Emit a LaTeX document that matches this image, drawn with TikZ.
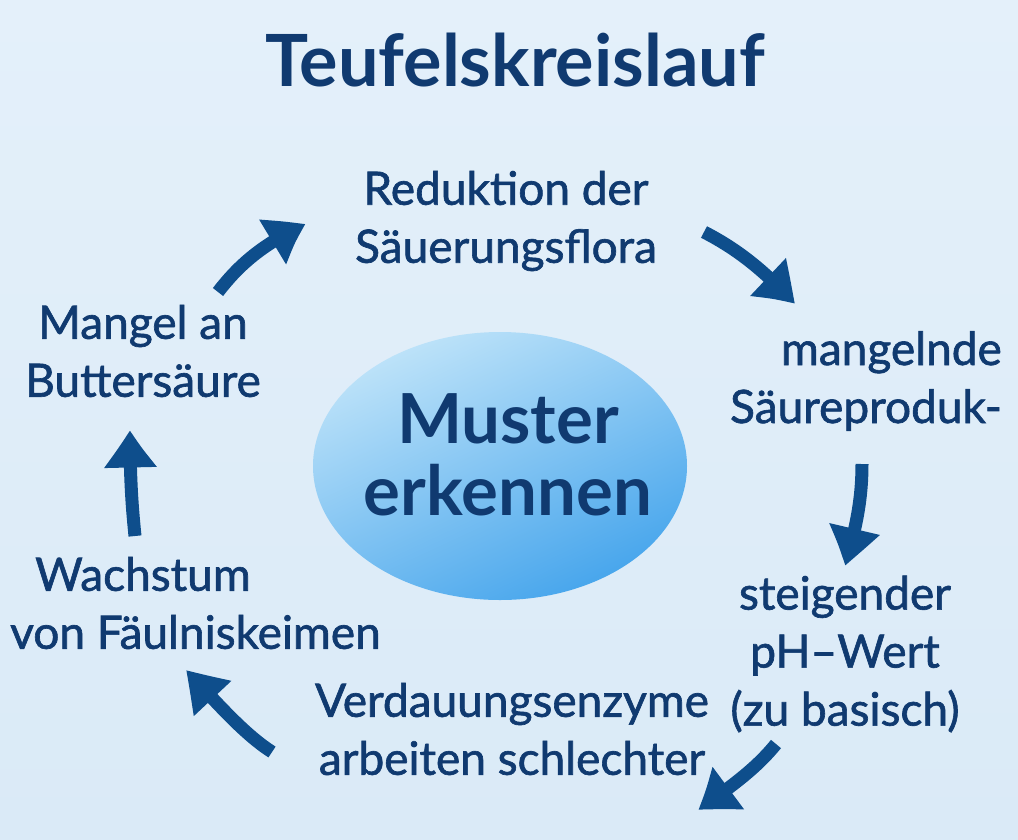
\documentclass[tikz,border=0pt]{standalone}
\usepackage{fontspec}
\setmainfont{Lato}
\newfontfamily\labelfont[FakeBold=1.4]{Lato}
\usetikzlibrary{arrows.meta,bending}
\definecolor{textblue}{RGB}{16,58,112}
\definecolor{arrowblue}{RGB}{14,78,140}
\definecolor{bgtop}{RGB}{228,240,250}
\definecolor{bgmid}{RGB}{238,246,252}
\definecolor{bgbot}{RGB}{218,234,247}
\definecolor{ovlight}{RGB}{190,227,249}
\definecolor{ovdark}{RGB}{70,165,236}
\tikzset{
  lbl/.style={text=textblue, align=center, inner sep=0pt, font=\labelfont\fontsize{46}{58}\selectfont},
  cyc/.style={draw=arrowblue, line width=13pt, -{Triangle[length=40pt,width=48pt,bend]}},
}
\begin{document}
\begin{tikzpicture}[x=1pt,y=-1pt]
  \useasboundingbox (0,0) rectangle (1018,839);
  \shade[top color=bgtop, middle color=bgmid, bottom color=bgbot] (0,0) rectangle (1018,839);
  % centre
  \shade[top color=ovlight, bottom color=ovdark, shading angle=25] (500,466) ellipse [x radius=187, y radius=134];
  \node[lbl, font=\bfseries\fontsize{69}{72}\selectfont] (muster) at (508,455) {Muster\\erkennen};
  % title and labels
  \node[lbl, font=\bfseries\fontsize{72}{72}\selectfont] (title) at (515,60) {Teufelskreislauf};
  \node[lbl] (red) at (506,221) {Reduktion der\\Säuerungsflora};
  \node[lbl, align=right, anchor=east] (mang) at (1002,381) {mangelnde\\Säureproduk-};
  \node[lbl] (steig) at (845,654) {steigender\\pH–Wert\\(zu basisch)};
  \node[lbl] (verd) at (512,729) {Verdauungsenzyme\\arbeiten schlechter};
  \node[lbl, align=left, anchor=west] (wachs) at (10,603) {\hspace*{25pt}Wachstum\\von Fäulniskeimen};
  \node[lbl] (butt) at (143,351) {Mangel an\\Buttersäure};
  % arrow ends
  \coordinate (a1s) at (218,292); \coordinate (a1e) at (306,224);
  \coordinate (a2s) at (704,232); \coordinate (a2e) at (795,304);
  \coordinate (a3s) at (862,464); \coordinate (a3e) at (845,566);
  \coordinate (a4s) at (776,744); \coordinate (a4e) at (698,810);
  \coordinate (a5s) at (272,752); \coordinate (a5e) at (186,670);
  \coordinate (a6s) at (135,536); \coordinate (a6e) at (130,430);
  \draw[cyc] (a1s) .. controls (238,266) and (262,244) .. (a1e);
  \draw[cyc] (a2s) .. controls (735,248) and (762,268) .. (a2e);
  \draw[cyc] (a3s) .. controls (862,500) and (856,528) .. (a3e);
  \draw[cyc] (a4s) .. controls (758,766) and (738,782) .. (a4e);
  \draw[cyc] (a5s) .. controls (244,734) and (218,704) .. (a5e);
  \draw[cyc] (a6s) .. controls (132,506) and (130,480) .. (a6e);
\end{tikzpicture}
\end{document}
